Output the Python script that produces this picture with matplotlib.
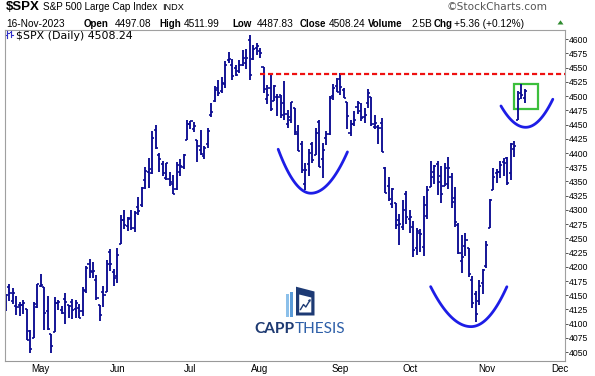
import numpy as np
import pandas as pd
import matplotlib
matplotlib.use("Agg")
import matplotlib.pyplot as plt
from matplotlib.patches import Polygon, Rectangle

# ---------------- data (S&P 500 daily OHLC, 17-Apr-2023 .. 16-Nov-2023) ----------------
start_date = "2023-04-17"
holidays = ["2023-05-29", "2023-06-19", "2023-07-04", "2023-09-04", "2023-11-23"]

opens = [4137.17, 4164.26, 4139.33, 4130.48, 4132.14, 4132.07, 4126.43, 4087.78, 4075.29, 4129.63,
         4166.79, 4164.10, 4122.25, 4082.61, 4084.73, 4136.98, 4124.25, 4143.74, 4132.24, 4138.54,
         4126.65, 4127.95, 4122.85, 4157.68, 4204.15, 4190.78, 4176.80, 4132.96, 4155.71, 4156.16,
         4226.71, 4190.74,
         4183.03, 4241.01, 4282.99, 4271.34, 4285.47, 4268.69, 4304.88, 4308.32, 4352.61, 4366.29,
         4365.33, 4440.95, 4396.11, 4380.01, 4355.40, 4354.17, 4344.84, 4337.36, 4367.48, 4374.94,
         4422.44,
         4450.48, 4442.04, 4422.62, 4404.54, 4394.23, 4415.55, 4467.69, 4491.50, 4514.61, 4508.86,
         4521.78, 4563.87, 4554.38, 4550.16, 4543.39, 4555.19, 4558.96, 4598.26, 4565.75, 4584.82,
         4578.83, 4550.93, 4494.27, 4513.96, 4491.58, 4498.03, 4501.57, 4487.16, 4450.69, 4458.13,
         4478.87, 4433.79, 4416.32, 4344.88, 4380.28, 4415.33, 4396.44, 4455.16, 4389.38, 4426.03,
         4432.75, 4500.34, 4517.01,
         4530.60, 4510.06, 4490.35, 4434.55, 4451.30, 4480.98, 4473.27, 4462.65, 4487.78, 4497.98,
         4445.13, 4445.41, 4452.81, 4374.36, 4341.74, 4310.62, 4312.88, 4282.63, 4269.65, 4328.18,
         4284.52, 4269.75, 4233.83, 4259.31, 4234.79, 4289.02, 4339.75, 4366.59, 4380.94, 4360.49,
         4342.37, 4345.23, 4357.35, 4321.36, 4273.85, 4210.40, 4235.79, 4232.42, 4175.99, 4152.93,
         4139.39, 4171.33,
         4201.27, 4268.26, 4334.23, 4364.27, 4366.21, 4384.37, 4391.41, 4364.15, 4406.66, 4458.97,
         4505.30, 4497.08]
highs = [4151.72, 4169.48, 4162.57, 4148.57, 4138.02, 4142.41, 4126.43, 4089.67, 4138.24, 4170.06,
         4186.92, 4164.10, 4148.30, 4082.61, 4147.02, 4142.30, 4130.35, 4154.28, 4132.80, 4143.07,
         4141.25, 4135.54, 4164.67, 4202.20, 4212.91, 4209.22, 4185.68, 4132.96, 4165.74, 4212.87,
         4231.10, 4195.44,
         4232.43, 4290.67, 4299.28, 4288.33, 4299.19, 4298.01, 4322.62, 4340.13, 4375.37, 4391.82,
         4439.20, 4448.47, 4400.15, 4386.22, 4382.25, 4366.55, 4362.06, 4384.42, 4390.35, 4398.39,
         4458.48,
         4456.46, 4454.06, 4422.62, 4440.39, 4412.60, 4443.64, 4488.34, 4517.38, 4527.76, 4532.85,
         4562.30, 4578.43, 4564.74, 4555.00, 4563.41, 4580.62, 4582.47, 4607.07, 4590.16, 4594.22,
         4584.62, 4550.93, 4519.49, 4540.34, 4519.84, 4503.31, 4502.44, 4527.37, 4476.23, 4490.33,
         4478.87, 4449.95, 4421.17, 4381.82, 4407.55, 4418.59, 4443.18, 4458.30, 4418.46, 4439.56,
         4500.14, 4521.65, 4532.26,
         4541.25, 4514.29, 4490.35, 4457.81, 4473.53, 4490.77, 4487.11, 4479.39, 4511.99, 4497.98,
         4466.36, 4449.85, 4461.03, 4375.70, 4357.40, 4338.51, 4313.01, 4292.07, 4317.27, 4333.15,
         4300.58, 4281.15, 4268.50, 4267.13, 4324.10, 4341.73, 4385.46, 4378.64, 4385.85, 4377.10,
         4383.33, 4393.57, 4364.20, 4339.54, 4276.56, 4255.84, 4259.38, 4232.42, 4183.60, 4156.70,
         4177.47, 4195.55,
         4245.64, 4319.72, 4373.62, 4372.21, 4386.26, 4391.20, 4393.40, 4418.03, 4421.76, 4508.67,
         4521.17, 4511.99]
lows = [4123.18, 4140.36, 4134.49, 4114.57, 4113.86, 4117.77, 4071.38, 4049.35, 4075.29, 4127.18,
        4164.12, 4089.72, 4088.86, 4048.28, 4084.73, 4123.81, 4116.65, 4098.92, 4109.29, 4107.60,
        4110.27, 4109.86, 4113.62, 4153.50, 4180.20, 4179.68, 4142.54, 4103.98, 4129.73, 4156.16,
        4192.18, 4166.15,
        4171.64, 4241.01, 4266.82, 4263.09, 4263.96, 4261.07, 4291.70, 4304.37, 4337.66, 4337.85,
        4362.60, 4407.44, 4367.19, 4360.14, 4351.82, 4341.34, 4328.08, 4335.00, 4360.22, 4371.97,
        4422.44,
        4442.29, 4436.61, 4385.05, 4397.40, 4389.92, 4408.46, 4463.23, 4489.36, 4499.56, 4504.90,
        4514.59, 4557.48, 4527.56, 4535.79, 4541.29, 4552.42, 4547.58, 4528.56, 4564.01, 4573.14,
        4567.53, 4505.75, 4485.54, 4474.55, 4491.15, 4464.39, 4461.33, 4457.92, 4443.98, 4453.44,
        4432.19, 4403.55, 4364.83, 4335.31, 4360.30, 4382.77, 4396.44, 4375.55, 4356.29, 4414.98,
        4431.68, 4493.59, 4507.39,
        4501.35, 4496.01, 4442.38, 4430.46, 4448.38, 4467.89, 4456.83, 4453.52, 4478.69, 4447.21,
        4442.11, 4416.61, 4401.38, 4329.17, 4316.49, 4302.70, 4265.98, 4238.63, 4264.38, 4274.86,
        4260.21, 4216.45, 4220.48, 4225.91, 4219.55, 4283.79, 4339.64, 4345.34, 4325.43, 4311.97,
        4342.37, 4337.54, 4303.84, 4269.69, 4223.03, 4189.22, 4219.43, 4181.42, 4127.90, 4103.78,
        4132.94, 4153.12,
        4197.74, 4268.26, 4334.23, 4347.53, 4355.41, 4359.76, 4343.94, 4353.34, 4393.82, 4458.97,
        4495.31, 4487.83]
closes = [4151.32, 4154.87, 4154.52, 4129.79, 4133.52, 4137.04, 4071.63, 4055.99, 4135.35, 4169.48,
          4167.87, 4119.58, 4090.75, 4061.22, 4136.25, 4138.12, 4119.17, 4137.64, 4130.62, 4124.08,
          4136.28, 4109.90, 4158.77, 4198.05, 4191.98, 4192.63, 4145.58, 4115.24, 4151.28, 4205.45,
          4205.52, 4179.83,
          4221.02, 4282.37, 4273.79, 4283.85, 4267.52, 4293.93, 4298.86, 4338.93, 4369.01, 4372.59,
          4425.84, 4409.59, 4388.71, 4365.69, 4381.89, 4348.33, 4328.82, 4378.41, 4376.86, 4396.44,
          4450.38,
          4455.59, 4446.82, 4411.59, 4398.95, 4409.53, 4439.26, 4472.16, 4510.04, 4505.42, 4522.79,
          4554.98, 4565.72, 4534.87, 4536.34, 4554.64, 4567.46, 4566.75, 4537.41, 4582.23, 4588.96,
          4576.73, 4513.39, 4501.89, 4478.03, 4518.44, 4499.38, 4467.71, 4468.83, 4464.05, 4489.72,
          4437.86, 4404.33, 4370.36, 4369.71, 4399.77, 4387.55, 4436.01, 4376.31, 4405.71, 4433.31,
          4497.63, 4514.87, 4507.66,
          4515.77, 4496.83, 4465.48, 4451.14, 4457.49, 4487.46, 4461.90, 4467.44, 4505.10, 4450.32,
          4453.53, 4443.95, 4402.20, 4330.00, 4320.06, 4337.44, 4273.53, 4274.51, 4299.70, 4288.05,
          4288.39, 4229.45, 4263.75, 4258.19, 4308.50, 4335.66, 4358.24, 4376.95, 4349.61, 4327.78,
          4373.63, 4373.20, 4314.60, 4278.00, 4224.16, 4217.04, 4247.68, 4186.77, 4137.23, 4117.37,
          4166.82, 4193.80,
          4237.86, 4317.78, 4358.34, 4365.98, 4378.38, 4382.78, 4347.35, 4415.24, 4411.55, 4495.70,
          4502.88, 4508.24]

month_labels = ["May", "Jun", "Jul", "Aug", "Sep", "Oct", "Nov", "Dec"]
y_ticks = list(range(4050, 4601, 25))

resistance_level = 4538.5
# annotation arcs: (start, bottom, end) in (trading-day index, price)
arcs = [
    [(78.2, 4406.7), (87.6, 4329.4), (98.1, 4402.0)],
    [(122.0, 4165.2), (133.6, 4094.9), (143.9, 4165.0)],
    [(142.2, 4482.8), (149.3, 4445.3), (157.1, 4494.6)],
]
box_x = (145.9, 152.96)
box_price = (4477.5, 4522.0)

# header values
hdr_date = "16-Nov-2023"
hdr_open, hdr_high, hdr_low, hdr_close = "4497.08", "4511.99", "4487.83", "4508.24"
hdr_volume = "2.5B"
hdr_chg = "+5.36 (+0.12%)"

# ---------------- figure ----------------
W, H = 595, 376
fig = plt.figure(figsize=(W / 100, H / 100), dpi=100)
fig.patch.set_facecolor("white")

ax_l, ax_r, ax_t, ax_b = 4.7, 565.0, 30.0, 360.7
ax = fig.add_axes([ax_l / W, 1 - ax_b / H, (ax_r - ax_l) / W, (ax_b - ax_t) / H])

n = len(closes)
days = pd.bdate_range(start_date, periods=n + 15, freq="C", holidays=holidays)
x = np.arange(n)

bar_col = "#0c0c92"
ax.vlines(x, lows, highs, color=bar_col, lw=1.35)
ax.hlines(opens, x - 0.6, x, color=bar_col, lw=1.2)
ax.hlines(closes, x, x + 0.6, color=bar_col, lw=1.2)

ax.set_xlim(-0.37, 160.6)
ax.set_ylim(4035, 4616.3)

# month ticks at first trading day of each month
dser = pd.Series(days)
firsts = []
for m in range(5, 13):
    idx = np.where(dser.dt.month.values == m)[0]
    firsts.append(int(idx[0]))
ax.set_xticks(firsts)
ax.set_xticklabels(month_labels, fontsize=7, family="Liberation Sans")
ax.tick_params(axis="x", length=0, pad=2.2)

ax.yaxis.tick_right()
ax.set_yticks(y_ticks)
ax.set_yticklabels([str(v) for v in y_ticks], fontsize=6.2, family="Liberation Sans")
ax.tick_params(axis="y", length=2.2, width=0.7, pad=0.8, color="#555555")

for s in ["left", "right", "top"]:
    ax.spines[s].set_color("#a0a0a0")
    ax.spines[s].set_linewidth(0.8)
ax.spines["bottom"].set_color("#999999")
ax.spines["bottom"].set_linewidth(0.8)
ax.spines["bottom"].set_linestyle((0, (1, 1)))

# annotations
ax.hlines(resistance_level, 73, 160.6, color="#ee1111", lw=1.6, linestyles=[(0, (2.3, 1.3))])
for (x0, y0), (xb, yb), (x1, y1) in arcs:
    aL = (y0 - yb) / (x0 - xb) ** 2
    aR = (y1 - yb) / (x1 - xb) ** 2
    xs_l = np.linspace(x0, xb, 60)
    xs_r = np.linspace(xb, x1, 60)
    xs = np.concatenate([xs_l, xs_r])
    ys = np.concatenate([yb + aL * (xs_l - xb) ** 2, yb + aR * (xs_r - xb) ** 2])
    ax.plot(xs, ys, color="#1d1de6", lw=2.0, solid_capstyle="round")
ax.add_patch(Rectangle((box_x[0], box_price[0]), box_x[1] - box_x[0], box_price[1] - box_price[0],
                       fill=False, edgecolor="#3cbf3c", lw=1.6))

# ---------------- overlay (pixel coordinates) ----------------
ov = fig.add_axes([0, 0, 1, 1], facecolor="none")
ov.set_xlim(0, W)
ov.set_ylim(H, 0)
ov.axis("off")

fam = "Liberation Sans"
ov.text(5.5, 10.3, "$SPX", fontsize=9.5, fontweight="bold", family=fam, va="baseline")
ov.text(42.7, 10.3, "S&P 500 Large Cap Index", fontsize=7.1, family=fam, va="baseline")
ov.text(161.7, 10.3, "INDX", fontsize=6.6, family=fam, va="baseline")
ov.text(446.7, 10.0, "\u00a9StockCharts.com", fontsize=7.6, family="DejaVu Sans", color="#555555", va="baseline")

y2 = 26.7
items = [
    (6, hdr_date, "normal"), (83.3, "Open", "bold"), (115, hdr_open, "normal"),
    (159.3, "High", "bold"), (184.0, hdr_high, "normal"), (232.3, "Low", "bold"),
    (256.7, hdr_low, "normal"), (300, "Close", "bold"), (328.5, hdr_close, "normal"),
    (368.3, "Volume", "bold"), (411.7, hdr_volume, "normal"), (433.3, "Chg", "bold"),
    (454.0, hdr_chg, "normal"),
]
for xx, s, wgt in items:
    ov.text(xx, y2, s, fontsize=7.0 if wgt == "bold" else 7.3, fontweight=wgt, family=fam, va="baseline")
ov.add_patch(Polygon([(557.5, 24.5), (563.5, 24.5), (560.5, 20.3)], closed=True, color="#2e8b2e", lw=0))

# legend inside plot
ov.text(16, 38.6, "$SPX (Daily) " + hdr_close, fontsize=7.9, family="DejaVu Sans", va="baseline")
ic = "#3030c8"
for xx, (lo, hi, o, c) in zip([7.2, 11.2], [(31, 37.5, 35, 32.5), (30.5, 36.5, 32, 34.5)]):
    ov.plot([xx, xx], [lo, hi], color=ic, lw=0.8)
    ov.plot([xx - 1.3, xx], [o, o], color=ic, lw=0.8)
    ov.plot([xx, xx + 1.3], [c, c], color=ic, lw=0.8)

# CAPPTHESIS logo
ov.add_patch(Rectangle((285.6, 294.0), 3.2, 22.8, color="#8cc0ea", lw=0))
ov.add_patch(Rectangle((290.0, 291.5), 3.4, 25.3, color="#5a9bd8", lw=0))
ov.add_patch(Polygon([(296, 286.7), (314.5, 291.5), (314.5, 315.5), (296, 315.5)], closed=True,
                     color="#1d3a74", lw=0))
ov.add_patch(Polygon([(299.2, 294.5), (311.3, 297.5), (311.3, 312.5), (299.2, 312.5)], closed=True,
                     color="white", lw=0))
ov.plot([300.5, 303.5, 305.8, 309.8], [309.5, 304.5, 307.0, 300.5], color="#1d3a74", lw=1.0)
ov.add_patch(Polygon([(310.6, 299.0), (307.8, 300.2), (310.2, 302.4)], closed=True, color="#1d3a74", lw=0))

logo_fs = 10.6
t1 = ov.text(254, 333.4, "CAPP", fontsize=logo_fs, fontweight="bold", family="Lato",
             color="#1e3a72", va="baseline")
t2 = ov.text(0, 333.4, "THESIS", fontsize=logo_fs, family="Lato", color="#2d5fa8", va="baseline")
fig.canvas.draw()
r = fig.canvas.get_renderer()
bb1 = t1.get_window_extent(r)
bb2 = t2.get_window_extent(r)
total = bb1.width + 0.8 + bb2.width
scale = 91.7 / total
t1.set_fontsize(logo_fs * scale)
t2.set_fontsize(logo_fs * scale)
fig.canvas.draw()
bb1 = t1.get_window_extent(r)
t2.set_x(254 + bb1.width + 0.8)

fig.savefig("out.png", dpi=100, facecolor="white")
